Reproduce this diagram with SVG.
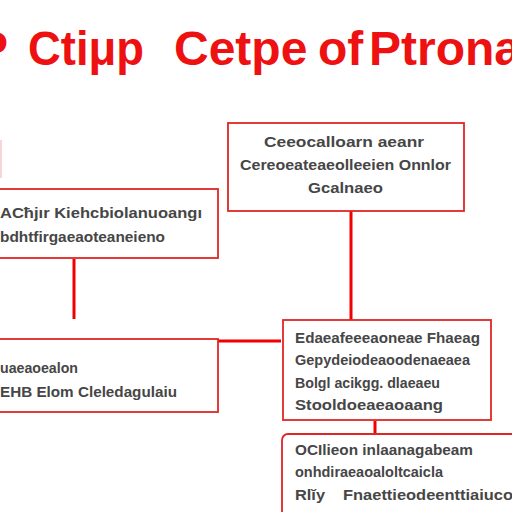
<svg xmlns="http://www.w3.org/2000/svg" width="512" height="512" viewBox="0 0 512 512">
<style>
.title{font-family:"Liberation Sans",Arial,sans-serif;font-weight:bold;font-size:48px;fill:#ee1111}
.box{fill:#fff;stroke:#e02525;stroke-width:1.8}
.t{font-family:"Liberation Sans",Arial,sans-serif;font-weight:bold;font-size:15px;fill:#464646}
.c{stroke:#f00000;stroke-width:3;fill:none;stroke-linecap:butt}
</style>
<rect width="512" height="512" fill="#fff"/>
<g id="title">
<text class="title" x="-24" y="65">P</text>
<text class="title" x="28" y="65" textLength="116" lengthAdjust="spacingAndGlyphs">Ctiμp</text>
<text class="title" x="174" y="65">Cetpe</text>
<text class="title" x="318" y="65">of</text>
<text class="title" x="369" y="65">Ptrona</text>
</g>
<g id="connectors">
<line class="c" x1="351" y1="211" x2="351" y2="320"/>
<line class="c" x1="74" y1="259" x2="74" y2="319"/>
<line class="c" x1="207" y1="341" x2="281" y2="341"/>
<line class="c" x1="375" y1="421" x2="375" y2="434" stroke-width="5"/>
<line x1="60" y1="247" x2="72" y2="258" stroke="#777" stroke-width="1"/>
<line x1="1" y1="140" x2="1" y2="178" stroke="#f4c8c8" stroke-width="1.5"/>
</g>
<g id="node-top">
<rect class="box" x="228" y="123" width="236" height="88"/>
<text class="t" x="264" y="147" textLength="160" lengthAdjust="spacingAndGlyphs">Ceeocalloarn aeanr</text>
<text class="t" x="240" y="170" textLength="211" lengthAdjust="spacingAndGlyphs">Cereoeateaeolleeien Onnlor</text>
<text class="t" x="308" y="193" textLength="75" lengthAdjust="spacingAndGlyphs">Gcalnaeo</text>
</g>
<g id="node-left">
<rect class="box" x="-2" y="189" width="220" height="69"/>
<text class="t" x="0" y="218" textLength="202" lengthAdjust="spacingAndGlyphs">ACħjır Kiehcbiolanuoangı</text>
<text class="t" x="0" y="242" textLength="165" lengthAdjust="spacingAndGlyphs">bdhtfirgaeaoteaneieno</text>
</g>
<g id="node-bottom-left">
<rect class="box" x="-2" y="339" width="220" height="73"/>
<text class="t" x="0" y="373" textLength="78" lengthAdjust="spacingAndGlyphs">uaeaoealon</text>
<text class="t" x="0" y="397" textLength="177" lengthAdjust="spacingAndGlyphs">EHB  Elom  Cleledagulaiu</text>
</g>
<g id="node-bottom-right">
<rect class="box" x="283" y="320" width="208" height="100"/>
<text class="t" x="295" y="343" textLength="185" lengthAdjust="spacingAndGlyphs">Edaeafeeeaoneae  Fhaeag</text>
<text class="t" x="295" y="365" textLength="175" lengthAdjust="spacingAndGlyphs">Gepydeiodeaoodenaeaea</text>
<text class="t" x="295" y="388" textLength="145" lengthAdjust="spacingAndGlyphs">Bolgl acikgg. dlaeaeu</text>
<text class="t" x="295" y="410" textLength="148" lengthAdjust="spacingAndGlyphs">Stooldoeaeaoaang</text>
</g>
<g id="node-bottom">
<rect class="box" x="282" y="434" width="240" height="90" rx="6"/>
<text class="t" x="295" y="455" textLength="178" lengthAdjust="spacingAndGlyphs">OCIlieon inlaanagabeam</text>
<text class="t" x="295" y="477" textLength="148" lengthAdjust="spacingAndGlyphs">onhdiraeaoaloltcaicla</text>
<text class="t" x="295" y="500" textLength="30" lengthAdjust="spacingAndGlyphs">Rlĭy</text>
<text class="t" x="343" y="500" textLength="170" lengthAdjust="spacingAndGlyphs">Fnaettieodeenttiaiuco</text>
</g>
</svg>
